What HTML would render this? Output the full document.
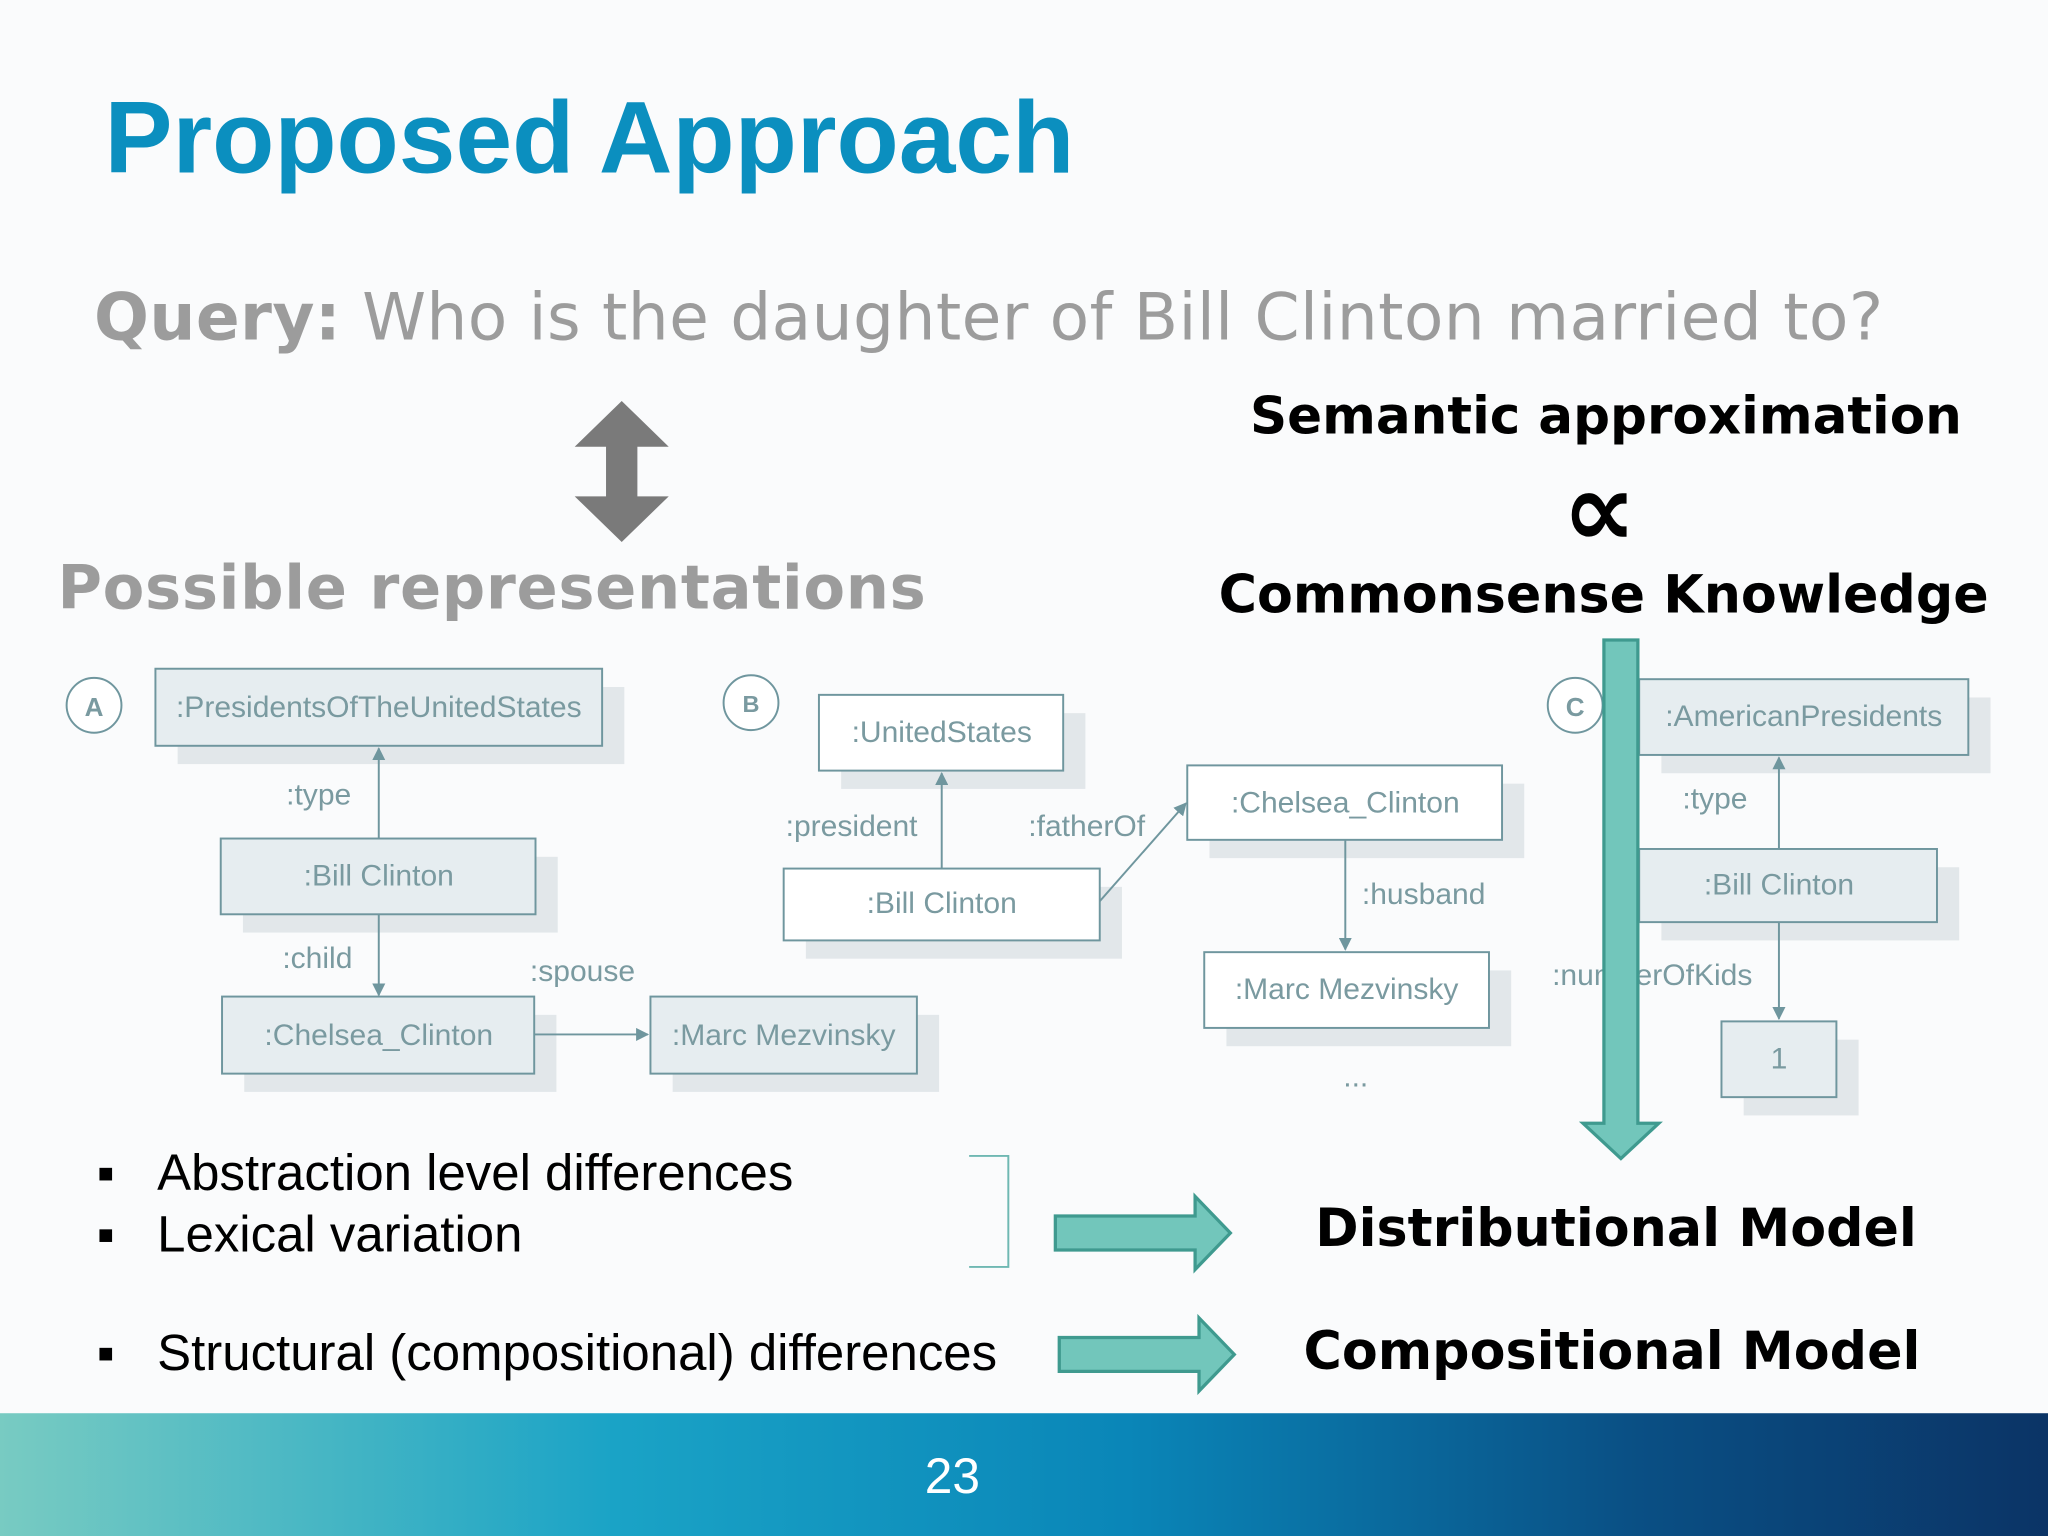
<!DOCTYPE html>
<html><head><meta charset="utf-8"><style>
html,body{margin:0;padding:0;}
body{width:2048px;height:1536px;overflow:hidden;background:#fafbfc;}
#s{position:absolute;left:0;top:0;width:1568px;height:1176px;transform:scale(1.306122);transform-origin:0 0;}
.t{position:absolute;white-space:nowrap;}
</style></head><body><div id="s">
<div class="t" style="left:80px;top:60px;font:bold 78px 'Liberation Sans',sans-serif;color:#0b8fbf;">Proposed Approach</div>
<div class="t" style="left:72px;top:214px;font:49.5px 'DejaVu Sans',sans-serif;color:#9c9c9c;letter-spacing:0.3px"><b>Query:</b> Who is the daughter of Bill Clinton married to?</div>
<div class="t" style="left:44px;top:423px;font:bold 46.5px 'DejaVu Sans',sans-serif;color:#9c9c9c;letter-spacing:0.5px">Possible representations</div>
<div class="t" style="left:957px;top:296px;font:bold 39.5px 'DejaVu Sans',sans-serif;color:#000;">Semantic approximation</div>
<div class="t" style="left:1196px;top:344px;font:bold 80px 'DejaVu Sans',sans-serif;color:#000;">∝</div>
<div class="t" style="left:933px;top:433px;font:bold 40px 'DejaVu Sans',sans-serif;color:#000;">Commonsense Knowledge</div>
<div class="t" style="left:1007px;top:918px;font:bold 40px 'DejaVu Sans',sans-serif;color:#000;">Distributional Model</div>
<div class="t" style="left:998px;top:1012px;font:bold 40px 'DejaVu Sans',sans-serif;color:#000;">Compositional Model</div>
<div class="t" style="left:74px;top:875px;font:39px 'Liberation Sans',sans-serif;color:#000;line-height:47px">▪&nbsp;&nbsp;&nbsp;Abstraction level differences<br>▪&nbsp;&nbsp;&nbsp;Lexical variation</div>
<div class="t" style="left:74px;top:1015px;font:39px 'Liberation Sans',sans-serif;color:#000;">▪&nbsp;&nbsp;&nbsp;Structural (compositional) differences</div>
<div style="position:absolute;left:0;top:1082px;width:1568px;height:94px;background:linear-gradient(90deg,#78cbc2 0%,#1aa3c6 30%,#0a86b8 55%,#0a4f84 80%,#0b3466 100%);"></div>
<div class="t" style="left:708px;top:1110px;font:38px 'Liberation Sans',sans-serif;color:#fff;">23</div>
<svg width="1568" height="1176" style="position:absolute;left:0;top:0" font-family="Liberation Sans, sans-serif">
<defs><marker id="ah" markerWidth="10" markerHeight="10" refX="9" refY="5" orient="auto" markerUnits="userSpaceOnUse"><path d="M0,0 L10,5 L0,10z" fill="#6f969e"/></marker></defs>
<path d="M476,307 L512,342 L488,342 L488,380 L512,380 L476,415 L440,380 L464,380 L464,342 L440,342z" fill="#7a7a7a"/>
<g fill="#e2e7ea">
<rect x="136" y="526" width="342" height="59"/><rect x="186" y="656" width="241" height="58"/><rect x="187" y="777" width="239" height="59"/><rect x="515" y="777" width="204" height="59"/>
<rect x="644" y="546" width="187" height="58"/><rect x="617" y="679" width="242" height="55"/><rect x="926" y="600" width="241" height="57"/><rect x="939" y="743" width="218" height="58"/>
<rect x="1272" y="534" width="252" height="58"/><rect x="1272" y="664" width="228" height="56"/><rect x="1335" y="796" width="88" height="58"/>
</g>
<g stroke="#6f969e" stroke-width="1.5">
<rect x="119" y="512" width="342" height="59" fill="#e6edf0"/><rect x="169" y="642" width="241" height="58" fill="#e6edf0"/><rect x="170" y="763" width="239" height="59" fill="#e6edf0"/><rect x="498" y="763" width="204" height="59" fill="#e6edf0"/>
<rect x="627" y="532" width="187" height="58" fill="#fff"/><rect x="600" y="665" width="242" height="55" fill="#fff"/><rect x="909" y="586" width="241" height="57" fill="#fff"/><rect x="922" y="729" width="218" height="58" fill="#fff"/>
<rect x="1255" y="520" width="252" height="58" fill="#e6edf0"/><rect x="1255" y="650" width="228" height="56" fill="#e6edf0"/><rect x="1318" y="782" width="88" height="58" fill="#e6edf0"/>
<line x1="290" y1="642" x2="290" y2="573" marker-end="url(#ah)"/><line x1="290" y1="700" x2="290" y2="762" marker-end="url(#ah)"/><line x1="409" y1="792" x2="496" y2="792" marker-end="url(#ah)"/>
<line x1="721" y1="665" x2="721" y2="592" marker-end="url(#ah)"/><line x1="842" y1="690" x2="908" y2="615" marker-end="url(#ah)"/><line x1="1030" y1="643" x2="1030" y2="727" marker-end="url(#ah)"/>
<line x1="1362" y1="650" x2="1362" y2="580" marker-end="url(#ah)"/><line x1="1362" y1="706" x2="1362" y2="780" marker-end="url(#ah)"/>
<circle cx="72" cy="540" r="21" fill="#fff"/><circle cx="575" cy="538" r="21" fill="#fff"/><circle cx="1206" cy="540" r="21" fill="#fff"/>
</g>
<g fill="#7a9aa0" font-size="23" text-anchor="middle">
<text x="290" y="549">:PresidentsOfTheUnitedStates</text><text x="290" y="678">:Bill Clinton</text><text x="290" y="800">:Chelsea_Clinton</text><text x="600" y="800">:Marc Mezvinsky</text>
<text x="721" y="568">:UnitedStates</text><text x="721" y="699">:Bill Clinton</text><text x="1030" y="622">:Chelsea_Clinton</text><text x="1031" y="765">:Marc Mezvinsky</text>
<text x="1381" y="556">:AmericanPresidents</text><text x="1362" y="685">:Bill Clinton</text><text x="1362" y="818">1</text>
<text x="244" y="616">:type</text><text x="243" y="741">:child</text><text x="446" y="751">:spouse</text><text x="652" y="640">:president</text><text x="832" y="640">:fatherOf</text><text x="1090" y="692">:husband</text><text x="1038" y="832">...</text>
<text x="1313" y="619">:type</text><text x="1265" y="754">:numberOfKids</text>
<text x="72" y="548" font-weight="bold" font-size="20">A</text><text x="575" y="545" font-weight="bold" font-size="18">B</text><text x="1206" y="548" font-weight="bold" font-size="20">C</text>
</g>
<path d="M1228,490 L1254,490 L1254,860 L1270,860 L1241,887 L1212,860 L1228,860z" fill="#72c6bb" stroke="#3f9a8f" stroke-width="2.5"/>
<path d="M742,885 L772,885 L772,970 L742,970" fill="none" stroke="#6fb8b2" stroke-width="1.5"/>
<path d="M808,931 L915,931 L915,916 L942,944 L915,972 L915,957 L808,957z" fill="#72c6bb" stroke="#3f9a8f" stroke-width="2.5"/>
<path d="M811,1024 L918,1024 L918,1009 L945,1037 L918,1065 L918,1050 L811,1050z" fill="#72c6bb" stroke="#3f9a8f" stroke-width="2.5"/>
</svg>
</div></body></html>
